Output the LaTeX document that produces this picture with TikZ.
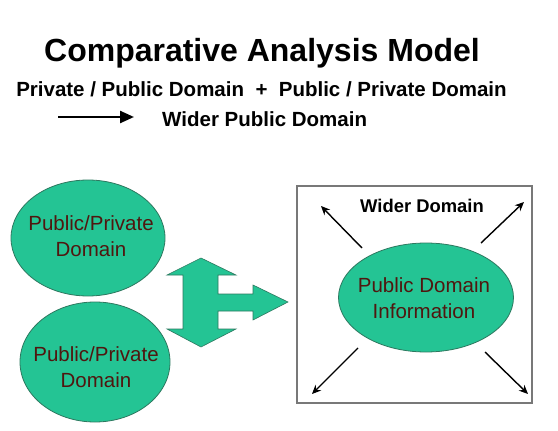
\documentclass[tikz,border=0pt]{standalone}
\usepackage{fontspec}
\setmainfont{Liberation Sans}
\usetikzlibrary{arrows.meta,shapes.geometric}
\definecolor{blobgreen}{RGB}{36,196,148}
\definecolor{blobedge}{RGB}{45,120,95}
\definecolor{inktext}{RGB}{80,22,15}
\definecolor{boxgray}{RGB}{120,120,120}
\begin{document}
\begin{tikzpicture}[x=1pt,y=-1pt,
  blob/.style={ellipse,fill=blobgreen,draw=blobedge,line width=0.8pt,inner sep=0pt},
  blobtxt/.style={align=center,text=inktext,inner sep=0pt,font=\fontsize{20.5}{26.5}\selectfont},
  headtxt/.style={font=\bfseries\fontsize{20.5}{24}\selectfont,anchor=base,inner sep=0pt},
  ray/.style={line width=1.4pt,-{Stealth[length=9pt,width=8pt]}}]
\useasboundingbox[fill=white] (0,0) rectangle (558,431);
% headings
\node[font=\bfseries\fontsize{32}{36}\selectfont,anchor=base,inner sep=0pt] (title) at (262,61) {Comparative Analysis Model};
\node[headtxt] (sub) at (261.5,96.5) {Private / Public Domain\ \ +\ \ Public / Private Domain};
\node[headtxt,anchor=base west] (wider) at (162,126) {Wider Public Domain};
\coordinate (la) at (58,117);
\coordinate (lb) at (134,117);
\draw[line width=2.4pt,-{Triangle[length=14pt,width=12pt]}] (la) -- (lb);
% left ellipses
\node[blob,minimum width=154pt,minimum height=116pt] (e1) at (88,238) {};
\node[blobtxt] (e1t) at (91,236) {Public/Private\\Domain};
\node[blob,minimum width=150pt,minimum height=120pt] (e2) at (95,362) {};
\node[blobtxt] (e2t) at (96,367) {Public/Private\\Domain};
% block arrow
\path[fill=blobgreen,draw=blobedge,line width=0.6pt]
  (201,258) -- (236,275) -- (218,275) -- (218,294) -- (253,294) -- (253,285)
  -- (288,302) -- (253,320) -- (253,311) -- (218,311) -- (218,329) -- (236,329)
  -- (201,347) -- (167,329) -- (183,329) -- (183,275) -- (167,275) -- cycle;
% box
\node[draw=boxgray,line width=1.1pt,minimum width=235pt,minimum height=217pt,inner sep=0pt] (box) at (414.5,294.5) {};
\node[font=\bfseries\fontsize{18.4}{22}\selectfont,inner sep=0pt,anchor=base] (wd) at (422,212) {Wider Domain};
\node[blob,minimum width=175pt,minimum height=109pt] (pdi) at (426,297.5) {};
\node[blobtxt] (pdit) at (424,298) {Public Domain\\Information};
% rays
\coordinate (r1s) at (362,248); \coordinate (r1e) at (321,206);
\coordinate (r2s) at (481,243); \coordinate (r2e) at (524,202);
\coordinate (r3s) at (358,348); \coordinate (r3e) at (312,394);
\coordinate (r4s) at (485,352); \coordinate (r4e) at (528,394);
\draw[ray] (r1s) -- (r1e);
\draw[ray] (r2s) -- (r2e);
\draw[ray] (r3s) -- (r3e);
\draw[ray] (r4s) -- (r4e);
\end{tikzpicture}
\end{document}
